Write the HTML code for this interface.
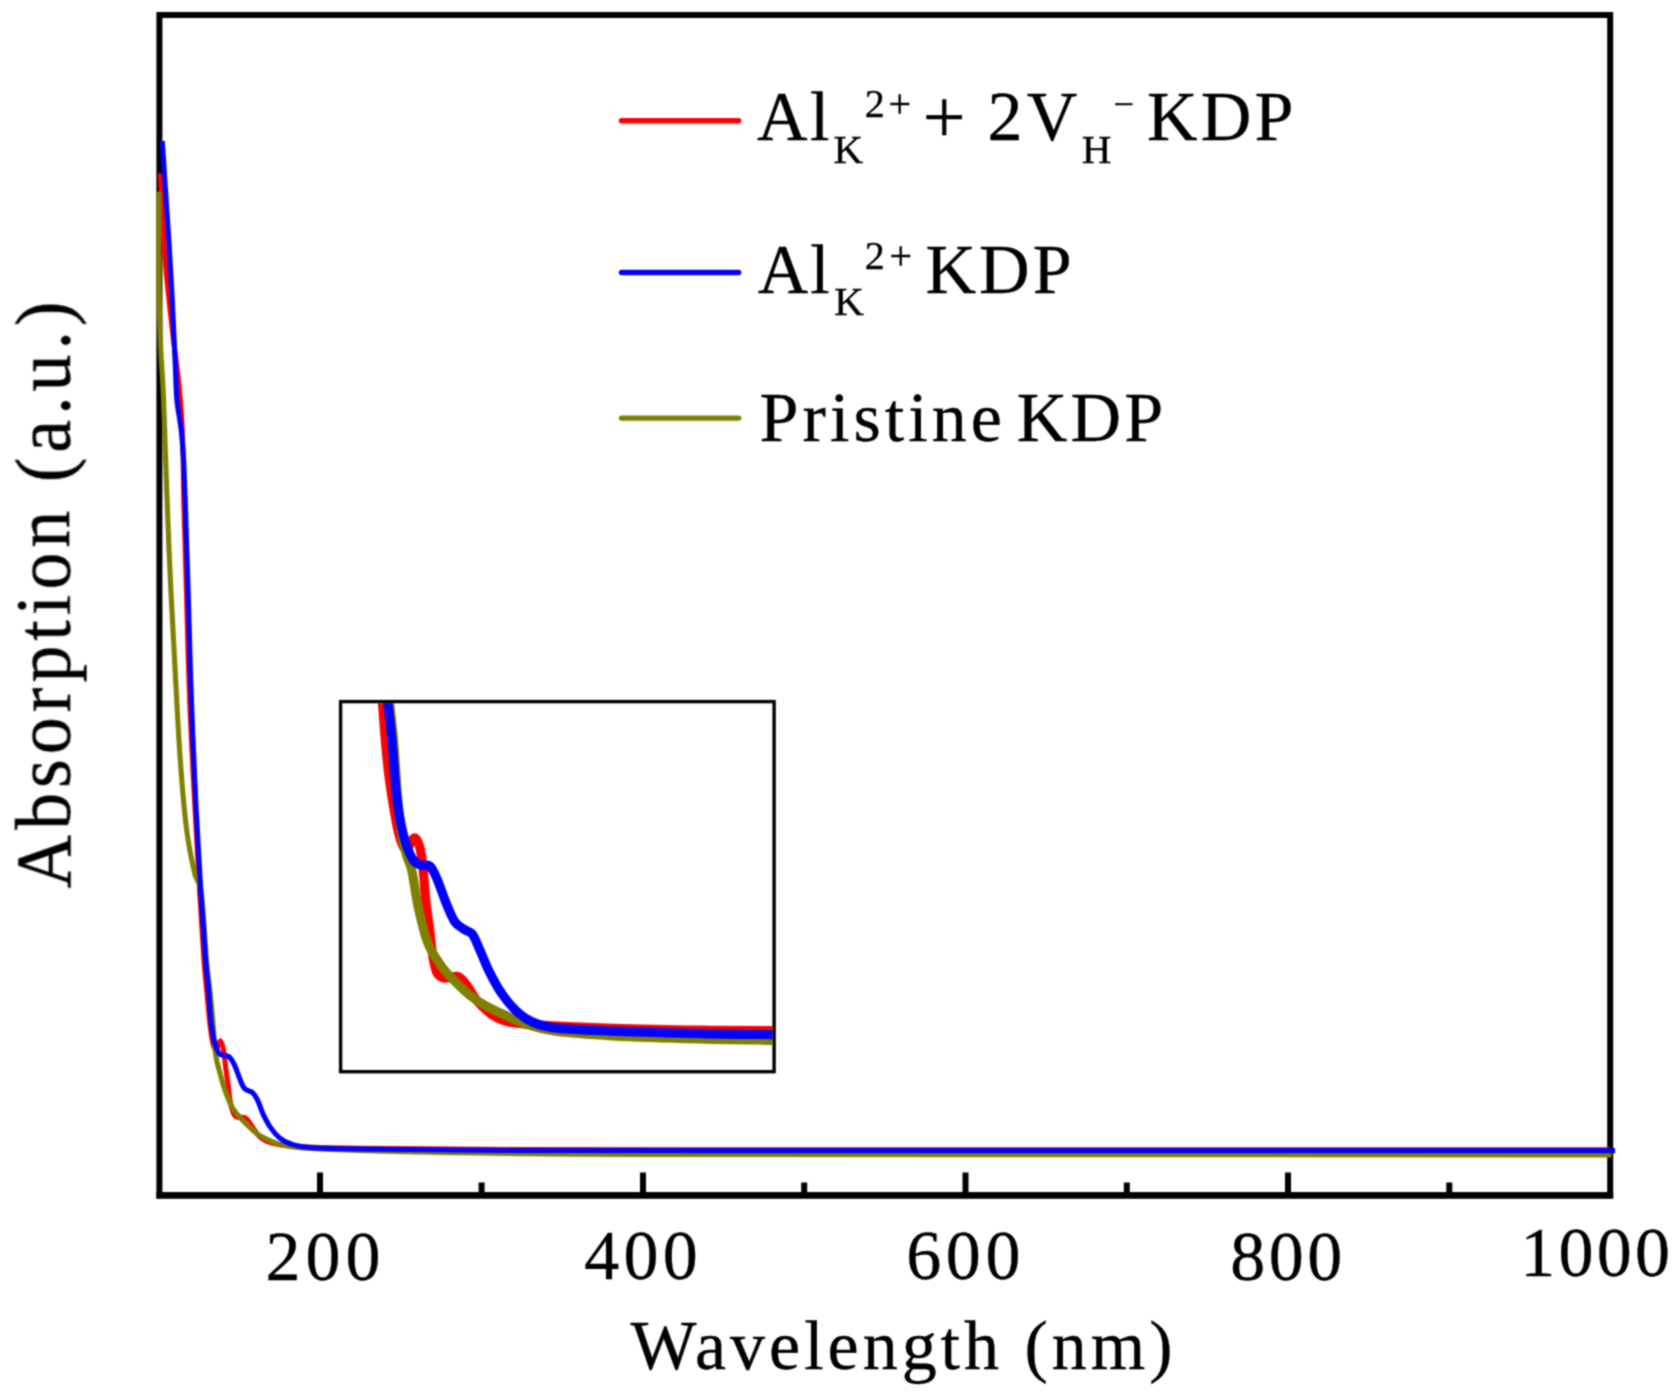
<!DOCTYPE html>
<html>
<head>
<meta charset="utf-8">
<title>Absorption spectra</title>
<style>
html,body{margin:0;padding:0;background:#fff;}
body{width:1680px;height:1400px;overflow:hidden;}
svg{display:block;}
text{font-family:"Liberation Serif","Times New Roman",serif;fill:#000;}
.t text{stroke:#000;stroke-width:0.35px;}
.c{fill:none;stroke-linejoin:round;stroke-linecap:butt;}
</style>
</head>
<body>
<svg width="1680" height="1400" viewBox="0 0 1680 1400">
<defs>
<filter id="soft" x="0" y="0" width="1680" height="1400" filterUnits="userSpaceOnUse" color-interpolation-filters="sRGB"><feConvolveMatrix order="3" kernelMatrix="1 2 1 2 6 2 1 2 1" divisor="18" edgeMode="duplicate" preserveAlpha="false"/></filter>
<clipPath id="insetclip"><rect x="342.3" y="703.3" width="430.1" height="366.7"/></clipPath>
</defs>
<g filter="url(#soft)">
<rect x="0" y="0" width="1680" height="1400" fill="#fff"/>

<!-- axis frame -->
<rect x="159.4" y="15" width="1450.8" height="1180.2" fill="none" stroke="#000" stroke-width="6"/>
<line x1="156.4" y1="1195.5" x2="1613.2" y2="1195.5" stroke="#000" stroke-width="6.6"/>
<!-- ticks -->
<g stroke="#000" stroke-width="6" stroke-linecap="butt">
<line x1="320" y1="1172.5" x2="320" y2="1193"/>
<line x1="643" y1="1172.5" x2="643" y2="1193"/>
<line x1="965.5" y1="1172.5" x2="965.5" y2="1193"/>
<line x1="1288" y1="1172.5" x2="1288" y2="1193"/>
<line x1="481.6" y1="1182.5" x2="481.6" y2="1193"/>
<line x1="804.2" y1="1182.5" x2="804.2" y2="1193"/>
<line x1="1126.8" y1="1182.5" x2="1126.8" y2="1193"/>
<line x1="1449.3" y1="1182.5" x2="1449.3" y2="1193"/>
</g>

<!-- main curves -->
<g class="c" stroke-width="5.1">
<path d="M160.3,173.4 C160.5,177.6 161.1,186.8 161.7,198.6 C162.3,210.4 162.9,229.1 164.0,244.3 C165.1,259.5 166.4,274.1 168.0,290.0 C169.6,305.9 171.8,325.0 173.5,340.0 C175.2,355.0 177.1,366.7 178.5,380.0 C179.9,393.3 181.0,406.7 181.8,420.0 C182.6,433.3 182.8,445.5 183.2,460.0 C183.6,474.5 183.4,484.8 184.0,507.0 C184.6,529.2 185.6,560.8 186.5,593.0 C187.4,625.2 188.3,664.2 189.7,700.0 C191.1,735.8 193.3,775.7 195.0,808.0 C196.7,840.3 198.3,868.7 199.8,894.0 C201.3,919.3 202.8,943.8 204.0,960.0 C205.2,976.2 205.8,980.4 206.8,991.4 C207.8,1002.4 209.1,1016.9 210.2,1026.0 C211.3,1035.1 212.4,1042.3 213.5,1046.0 C214.6,1049.7 215.6,1048.8 216.8,1048.0 C218.0,1047.2 219.4,1040.6 220.5,1040.9 C221.6,1041.2 222.6,1045.2 223.5,1050.0 C224.4,1054.8 225.2,1064.0 226.0,1070.0 C226.8,1076.0 227.6,1080.5 228.3,1085.7 C229.0,1090.9 229.4,1097.0 230.2,1101.4 C231.0,1105.9 232.0,1109.8 233.1,1112.4 C234.2,1115.0 234.9,1116.2 237.0,1117.1 C239.1,1118.0 243.2,1116.6 245.6,1117.9 C247.9,1119.2 248.9,1122.0 251.1,1125.0 C253.3,1128.0 256.4,1133.2 259.0,1136.0 C261.6,1138.8 263.5,1140.1 266.9,1141.5 C270.3,1142.9 272.4,1143.7 279.4,1144.6 C286.4,1145.5 295.6,1146.4 309.0,1147.0 C322.4,1147.6 331.5,1147.9 360.0,1148.3 C388.5,1148.7 423.3,1149.1 480.0,1149.3 C536.7,1149.5 511.6,1149.6 700.0,1149.7 L1610.5,1149.7" stroke="#ff0000"/>
<path d="M158.9,191.7 C158.9,208.1 158.8,263.6 159.1,290.0 C159.4,316.4 160.1,331.7 160.8,350.0 C161.6,368.3 162.2,366.7 163.6,400.0 C165.0,433.3 166.9,501.7 169.0,550.0 C171.1,598.3 174.2,654.0 176.2,690.0 C178.1,726.0 178.9,742.4 180.7,765.7 C182.4,789.0 184.4,812.1 186.7,830.0 C189.0,847.9 192.1,862.2 194.6,872.9 C197.1,883.6 199.5,879.5 201.5,894.0 C203.5,908.5 205.1,943.8 206.5,960.0 C207.9,976.2 208.9,980.5 210.0,991.0 C211.1,1001.5 212.1,1012.4 213.0,1023.0 C213.9,1033.7 214.5,1046.4 215.7,1054.9 C216.9,1063.5 218.7,1068.2 220.3,1074.3 C221.9,1080.4 223.4,1085.9 225.4,1091.4 C227.4,1096.9 229.8,1103.0 232.3,1107.4 C234.8,1111.8 237.5,1114.5 240.3,1117.7 C243.2,1121.0 246.3,1124.0 249.4,1126.9 C252.5,1129.8 255.2,1132.6 258.6,1134.9 C262.0,1137.2 265.9,1138.9 270.0,1140.6 C274.1,1142.3 276.3,1143.9 283.0,1145.2 C289.7,1146.5 297.2,1147.6 310.0,1148.5 C322.8,1149.4 331.7,1149.8 360.0,1150.5 C388.3,1151.2 423.3,1152.3 480.0,1153.0 C536.7,1153.7 511.4,1154.2 700.0,1154.5 L1611.5,1154.9" stroke="#808000"/>
<path d="M162.3,141.0 C162.7,147.5 163.9,166.0 164.8,180.0 C165.7,194.0 166.8,210.0 167.8,225.0 C168.8,240.0 169.7,254.2 170.6,270.0 C171.5,285.8 172.4,304.2 173.2,320.0 C174.0,335.8 174.7,351.7 175.3,365.0 C175.9,378.3 175.9,389.2 176.9,400.0 C177.9,410.8 180.1,420.0 181.2,430.0 C182.3,440.0 182.9,447.2 183.6,460.0 C184.3,472.8 184.6,484.8 185.4,507.0 C186.2,529.2 187.2,560.8 188.2,593.0 C189.2,625.2 190.1,664.1 191.4,700.0 C192.7,735.9 194.5,776.2 196.1,808.6 C197.7,841.0 199.4,869.1 201.0,894.3 C202.6,919.5 204.3,943.8 205.6,960.0 C206.9,976.2 207.8,980.9 208.7,991.4 C209.6,1001.9 210.1,1014.5 211.1,1022.9 C212.1,1031.3 213.0,1036.5 214.4,1041.7 C215.8,1046.9 217.2,1051.6 219.5,1054.0 C221.8,1056.4 226.1,1054.6 228.5,1056.3 C230.9,1058.0 232.2,1060.4 234.0,1064.0 C235.8,1067.6 237.8,1073.9 239.5,1078.0 C241.2,1082.1 242.3,1086.1 244.5,1088.5 C246.7,1090.9 250.3,1090.7 252.5,1092.6 C254.7,1094.5 255.7,1096.4 257.5,1100.0 C259.3,1103.6 261.0,1109.7 263.2,1114.3 C265.4,1118.9 267.9,1123.7 270.6,1127.6 C273.3,1131.5 276.1,1135.0 279.4,1137.7 C282.7,1140.4 285.4,1142.2 290.4,1143.8 C295.4,1145.4 297.7,1146.6 309.3,1147.5 C320.9,1148.4 331.6,1148.5 360.0,1149.0 C388.4,1149.5 423.3,1150.0 480.0,1150.3 C536.7,1150.6 510.8,1150.5 700.0,1150.6 L1615.0,1150.6" stroke="#0000ff"/>
</g>

<!-- inset -->
<rect x="340.6" y="701.6" width="433.5" height="370.1" fill="#fff" stroke="#000" stroke-width="3.4"/>
<g class="c" stroke-width="9.2" clip-path="url(#insetclip)">
<path d="M381.3,680.0 C381.5,683.9 381.4,688.8 382.5,703.4 C383.6,718.0 385.8,748.4 388.0,767.9 C390.2,787.4 393.7,807.9 396.0,820.6 C398.3,833.3 400.2,839.1 402.0,844.0 C403.8,848.9 405.5,850.3 407.0,850.0 C408.5,849.7 409.6,844.0 411.0,842.0 C412.4,840.0 413.7,837.1 415.2,838.1 C416.7,839.1 418.6,842.6 420.0,848.0 C421.4,853.4 422.4,861.8 423.3,870.4 C424.2,879.0 424.7,889.9 425.7,899.6 C426.7,909.4 428.2,919.1 429.5,928.9 C430.8,938.7 431.9,950.9 433.2,958.2 C434.5,965.5 435.2,969.6 437.1,972.9 C439.0,976.2 441.1,977.5 444.5,978.1 C447.9,978.7 454.0,975.3 457.6,976.4 C461.2,977.5 463.0,980.3 466.4,984.6 C469.8,988.9 473.7,997.0 478.1,1002.1 C482.5,1007.2 487.4,1011.9 492.8,1015.3 C498.2,1018.7 502.6,1020.7 510.4,1022.3 C518.2,1023.9 522.5,1024.0 539.6,1025.0 C556.7,1026.0 586.2,1027.4 612.9,1028.3 C639.6,1029.2 670.5,1029.8 700.0,1030.2 C729.5,1030.6 775.0,1030.5 790.0,1030.5" stroke="#ff0000"/>
<path d="M388.5,680.0 C388.7,683.8 388.9,693.0 389.7,703.0 C390.5,713.0 392.2,724.3 393.5,740.0 C394.8,755.7 396.3,781.2 397.7,797.0 C399.1,812.8 400.3,825.3 401.8,835.0 C403.3,844.7 404.8,848.9 406.5,855.0 C408.2,861.1 410.1,862.7 412.0,871.4 C413.9,880.1 415.6,895.2 418.2,907.1 C420.8,919.0 423.9,933.1 427.8,942.9 C431.7,952.7 437.0,959.9 441.4,966.1 C445.8,972.4 449.1,975.5 453.9,980.4 C458.7,985.3 464.6,991.2 470.0,995.5 C475.4,999.8 480.2,1002.7 486.1,1006.0 C492.1,1009.3 499.1,1012.5 505.7,1015.5 C512.2,1018.5 517.3,1021.4 525.4,1024.0 C533.5,1026.6 539.7,1029.0 554.3,1031.0 C568.9,1033.0 588.6,1034.5 612.9,1035.8 C637.2,1037.1 673.5,1038.2 700.0,1038.9 C726.5,1039.7 757.0,1040.0 772.0,1040.3 C787.0,1040.6 787.0,1040.5 790.0,1040.6" stroke="#808000"/>
<path d="M385.5,680.0 C385.9,683.9 386.9,693.6 388.0,703.4 C389.1,713.2 390.4,723.0 391.8,738.6 C393.2,754.2 394.8,781.0 396.7,797.1 C398.6,813.2 400.9,825.0 403.5,835.2 C406.1,845.5 409.4,853.6 412.3,858.6 C415.2,863.6 418.1,863.9 421.0,865.1 C423.9,866.3 427.1,863.7 429.8,866.0 C432.5,868.3 434.4,873.0 437.1,879.1 C439.8,885.2 443.0,895.5 445.9,902.6 C448.8,909.7 451.8,917.2 454.7,921.6 C457.6,926.0 460.6,926.8 463.5,928.9 C466.4,931.0 469.6,930.8 472.3,934.2 C475.0,937.6 476.7,943.0 479.6,949.4 C482.5,955.8 486.2,965.6 489.9,972.9 C493.6,980.2 497.2,987.1 501.6,993.4 C506.0,999.7 511.3,1006.3 516.2,1010.9 C521.1,1015.5 524.5,1018.4 530.9,1021.2 C537.2,1024.0 540.6,1026.2 554.3,1027.9 C568.0,1029.6 588.6,1030.2 612.9,1031.2 C637.2,1032.2 673.5,1033.0 700.0,1033.6 C726.5,1034.2 757.0,1034.4 772.0,1034.6 C787.0,1034.8 787.0,1034.8 790.0,1034.8" stroke="#0000ff"/>
</g>

<!-- legend -->
<g stroke-width="5.4" fill="none" stroke-linecap="round">
<line x1="621.5" y1="120.7" x2="738.7" y2="120.7" stroke="#ff0000"/>
<line x1="621.5" y1="272.5" x2="738.7" y2="272.5" stroke="#0000ff"/>
<line x1="621.5" y1="418.1" x2="738.7" y2="418.1" stroke="#808000"/>
</g>
<g class="t">
<text x="757.00" y="140.40" font-size="70" letter-spacing="2.43">Al</text>
<text x="833.45" y="163.00" font-size="41" letter-spacing="0">K</text>
<text x="864.64" y="117.10" font-size="40" letter-spacing="3.78">2+</text>
<text x="922.86" y="141.90" font-size="76" letter-spacing="0">+</text>
<text x="987.55" y="140.20" font-size="70" letter-spacing="4.19">2V</text>
<text x="1081.65" y="162.60" font-size="41" letter-spacing="0">H</text>
<text x="1113.6" y="115.8" font-size="36" letter-spacing="0">−</text>
<text x="1147.00" y="140.40" font-size="70" letter-spacing="3.17">KDP</text>
<text x="757.79" y="292.50" font-size="70" letter-spacing="1.86">Al</text>
<text x="834.25" y="314.60" font-size="41" letter-spacing="0">K</text>
<text x="864.64" y="268.90" font-size="40" letter-spacing="4.78">2+</text>
<text x="925.40" y="292.50" font-size="70" letter-spacing="3.17">KDP</text>
<text x="759.59" y="441.30" font-size="70" letter-spacing="4.04">Pristine</text>
<text x="1016.85" y="441.30" font-size="70" letter-spacing="3.2">KDP</text>
</g>

<!-- tick labels -->
<g class="t">
<text x="265.45" y="1279.50" font-size="70" letter-spacing="4.99">200</text>
<text x="584.33" y="1279.00" font-size="70" letter-spacing="4.18">400</text>
<text x="906.25" y="1278.60" font-size="70" letter-spacing="4.57">600</text>
<text x="1230.14" y="1279.80" font-size="70" letter-spacing="3.5">800</text>
<text x="1520.21" y="1275.73" font-size="70" letter-spacing="3.3">1000</text>
</g>

<!-- axis labels -->
<g class="t">
<text x="630.59" y="1368.60" font-size="70" letter-spacing="3.99">Wavelength (nm)</text>
<text transform="translate(69.5,888.3) rotate(-90) scale(1,1.045)" x="0" y="0" font-size="74" letter-spacing="4.96">Absorption (a.u.)</text>
</g>
</g>
</svg>
</body>
</html>
